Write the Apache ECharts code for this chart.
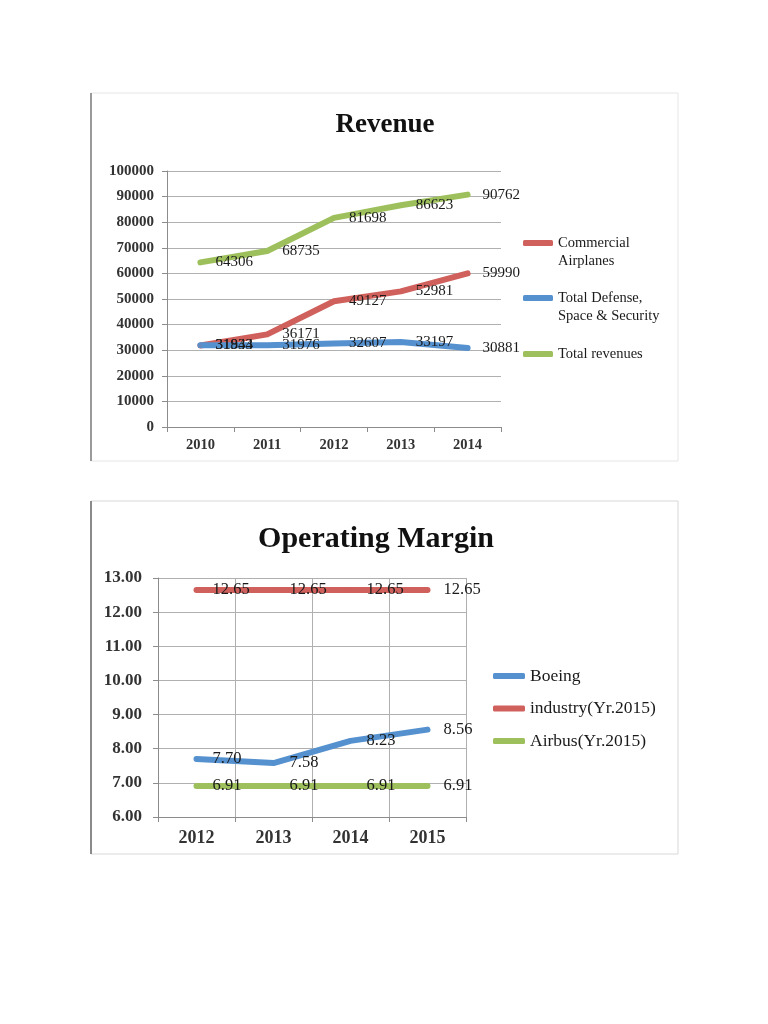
<!DOCTYPE html>
<html>
<head>
<meta charset="utf-8">
<script src="https://cdn.jsdelivr.net/npm/echarts@6/dist/echarts.min.js"></script>
<style>
html,body{margin:0;padding:0;background:#fff;}
#chart{width:768px;height:1024px;}
</style>
</head>
<body>
<div id="chart"></div>
<script>
// ---- Revenue chart data ----
const revenueYears = ['2010', '2011', '2012', '2013', '2014'];
const commercialAirplanes = [31834, 36171, 49127, 52981, 59990];
const defenseSpaceSecurity = [31943, 31976, 32607, 33197, 30881];
const totalRevenues = [64306, 68735, 81698, 86623, 90762];
const revenueSeriesNames = ['Commercial Airplanes', 'Total Defense, Space & Security', 'Total revenues'];
const revenueLegendText = ['\nCommercial\nAirplanes', '\nTotal Defense,\nSpace & Security', 'Total revenues'];

// ---- Operating margin chart data ----
const marginYears = ['2012', '2013', '2014', '2015'];
const boeingMargin = [7.70, 7.58, 8.23, 8.56];
const industryMargin = [12.65, 12.65, 12.65, 12.65];
const airbusMargin = [6.91, 6.91, 6.91, 6.91];
const marginSeriesNames = ['Boeing', 'industry(Yr.2015)', 'Airbus(Yr.2015)'];

const RED = '#d0605c', BLUE = '#5591cf', GREEN = '#9dc05c';
const FONT = 'Liberation Serif';
const TXT = '#1a1a1a';
const AXT = '#333333';

const chart = echarts.init(document.getElementById('chart'));

function lineSeries(name, data, color, xi, fs, fmt, dist) {
  return {
    type: 'line', name: name, data: data,
    xAxisIndex: xi, yAxisIndex: xi,
    symbol: 'circle', symbolSize: 2, showSymbol: true, smooth: false,
    lineStyle: { color: color, width: 6, cap: 'round', join: 'round' },
    itemStyle: { color: color },
    label: {
      show: true, position: 'right', distance: dist, offset: [0, 1],
      fontFamily: FONT, fontSize: fs, color: TXT,
      formatter: fmt
    },
    labelLayout: { hideOverlap: false },
    emphasis: { disabled: true },
    animation: false
  };
}

const legendIcon = 'roundRect';

function legendItem(name, top, left, w, fs, textMap) {
  return {
    data: [name], orient: 'vertical', left: left, top: top, padding: 0,
    icon: legendIcon, itemWidth: w, itemHeight: 6,
    selectedMode: false,
    formatter: function (n) { return textMap[n] || n; },
    textStyle: { fontFamily: FONT, fontSize: fs, color: TXT, lineHeight: 18 }
  };
}

const revMap = {};
revenueSeriesNames.forEach((n, i) => revMap[n] = revenueLegendText[i]);

const option = {
  backgroundColor: '#fff',
  animation: false,
  graphic: [
    { type: 'rect', shape: { x: 91, y: 93, width: 587, height: 368 }, style: { fill: 'none', stroke: '#e6e6e6', lineWidth: 1 }, silent: true },
    { type: 'line', shape: { x1: 91, y1: 93, x2: 91, y2: 461 }, style: { stroke: '#9a9a9a', lineWidth: 2 }, silent: true },
    { type: 'rect', shape: { x: 91, y: 501, width: 587, height: 353 }, style: { fill: 'none', stroke: '#d8d8d8', lineWidth: 1 }, silent: true },
    { type: 'line', shape: { x1: 91, y1: 501, x2: 91, y2: 854 }, style: { stroke: '#8a8a8a', lineWidth: 2 }, silent: true }
  ],
  title: [
    { text: 'Revenue', left: 385, top: 112, textAlign: 'center', padding: 0,
      textStyle: { fontFamily: FONT, fontWeight: 'bold', fontSize: 27, color: '#111' } },
    { text: 'Operating Margin', left: 376, top: 524, textAlign: 'center', padding: 0,
      textStyle: { fontFamily: FONT, fontWeight: 'bold', fontSize: 30, color: '#111' } }
  ],
  legend: [
    legendItem(revenueSeriesNames[0], 216, 523, 30, 14.5, revMap),
    legendItem(revenueSeriesNames[1], 271, 523, 30, 14.5, revMap),
    legendItem(revenueSeriesNames[2], 345, 523, 30, 14.5, revMap),
    {
      data: marginSeriesNames, orient: 'vertical', left: 493, top: 667, padding: 0,
      icon: legendIcon, itemWidth: 32, itemHeight: 6, itemGap: 14.5, selectedMode: false,
      textStyle: { fontFamily: FONT, fontSize: 17.5, color: TXT, lineHeight: 18 }
    }
  ],
  grid: [
    { left: 167, right: 267, top: 171, bottom: 597, containLabel: false },
    { left: 158, right: 302, top: 578, bottom: 207, containLabel: false }
  ],
  xAxis: [
    {
      type: 'category', data: revenueYears, gridIndex: 0, boundaryGap: true,
      axisLine: { lineStyle: { color: '#8c8c8c', width: 1 } },
      axisTick: { show: true, alignWithLabel: false, length: 5, lineStyle: { color: '#8c8c8c' } },
      axisLabel: { fontFamily: FONT, fontSize: 14.5, fontWeight: 'bold', color: AXT, margin: 11 },
      splitLine: { show: false }
    },
    {
      type: 'category', data: marginYears, gridIndex: 1, boundaryGap: true,
      axisLine: { lineStyle: { color: '#8c8c8c', width: 1 } },
      axisTick: { show: true, alignWithLabel: false, length: 5, lineStyle: { color: '#8c8c8c' } },
      axisLabel: { fontFamily: FONT, fontSize: 18, fontWeight: 'bold', color: AXT, margin: 12 },
      splitLine: { show: true, lineStyle: { color: '#b0b0b0', width: 1 } }
    }
  ],
  yAxis: [
    {
      type: 'value', gridIndex: 0, min: 0, max: 100000, interval: 10000,
      axisLine: { show: true, lineStyle: { color: '#8c8c8c', width: 1 } },
      axisTick: { show: true, length: 5, lineStyle: { color: '#8c8c8c' } },
      axisLabel: { fontFamily: FONT, fontSize: 15, fontWeight: 'bold', color: AXT, margin: 13,
        formatter: function (v) { return String(v); } },
      splitLine: { show: true, lineStyle: { color: '#b0b0b0', width: 1 } }
    },
    {
      type: 'value', gridIndex: 1, min: 6, max: 13, interval: 1,
      axisLine: { show: true, lineStyle: { color: '#8c8c8c', width: 1 } },
      axisTick: { show: true, length: 5, lineStyle: { color: '#8c8c8c' } },
      axisLabel: { fontFamily: FONT, fontSize: 17, fontWeight: 'bold', color: AXT, margin: 16,
        formatter: function (v) { return v.toFixed(2); } },
      splitLine: { show: true, lineStyle: { color: '#b0b0b0', width: 1 } }
    }
  ],
  series: [
    lineSeries(revenueSeriesNames[0], commercialAirplanes, RED, 0, 15, function (p) { return String(p.value); }, 14),
    lineSeries(revenueSeriesNames[1], defenseSpaceSecurity, BLUE, 0, 15, function (p) { return String(p.value); }, 14),
    lineSeries(revenueSeriesNames[2], totalRevenues, GREEN, 0, 15, function (p) { return String(p.value); }, 14),
    lineSeries(marginSeriesNames[0], boeingMargin, BLUE, 1, 16.5, function (p) { return p.value.toFixed(2); }, 15),
    lineSeries(marginSeriesNames[1], industryMargin, RED, 1, 16.5, function (p) { return p.value.toFixed(2); }, 15),
    lineSeries(marginSeriesNames[2], airbusMargin, GREEN, 1, 16.5, function (p) { return p.value.toFixed(2); }, 15)
  ]
};
chart.setOption(option);
</script>
</body>
</html>
